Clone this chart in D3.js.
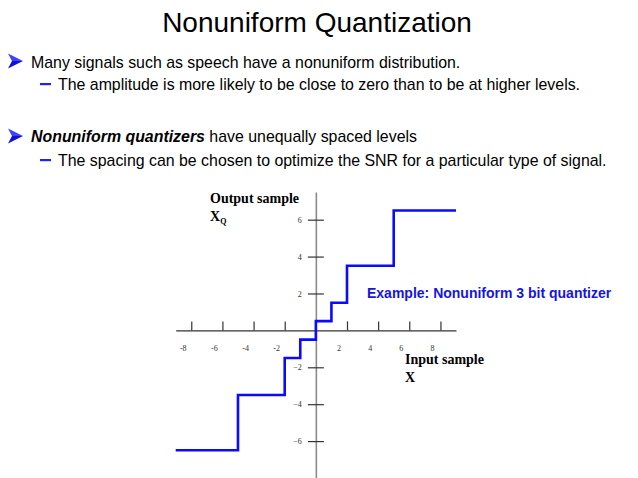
<!DOCTYPE html>
<html>
<head>
<meta charset="utf-8">
<script src="https://cdn.jsdelivr.net/npm/d3@7"></script>
<style>
  body { margin: 0; background: #fff; }
  svg { display: block; }
</style>
</head>
<body>
<div id="chart"></div>
<script>
// quantizer: decision thresholds and output levels
var xBreaks = [-9, -5, -2, -1, 0, 1, 2, 5, 9];
var levels = [-6.5, -3.5, -1.5, -0.5, 0.5, 1.5, 3.5, 6.5];
var xTicks = [-8, -6, -4, -2, 2, 4, 6, 8];
var yTicks = [-6, -4, -2, 2, 4, 6];

var W = 638, H = 478;
var sans = "'Liberation Sans', Arial, sans-serif";
var serif = "'Liberation Serif', 'Times New Roman', serif";

var svg = d3.select("#chart").append("svg")
  .attr("width", W)
  .attr("height", H);

// ---- slide text ----
svg.append("text")
  .attr("x", 317).attr("y", 32)
  .attr("text-anchor", "middle")
  .style("font-family", sans).style("font-size", "28px")
  .text("Nonuniform Quantization");

function arrowBullet(y) {
  var g = svg.append("g").attr("transform", "translate(8," + (y - 7.5) + ")");
  g.append("path").attr("d", "M0,0 L15,7.5 L4,7.5 Z").attr("fill", "#4040ff");
  g.append("path").attr("d", "M4,7.5 L15,7.5 L0,15 Z").attr("fill", "#1010d8");
}
function dashBullet(y) {
  svg.append("rect").attr("x", 40).attr("y", y - 1).attr("width", 11).attr("height", 2.2).attr("fill", "#2020ff");
}

var bodySize = "15.9px";

arrowBullet(61);
svg.append("text").attr("x", 31).attr("y", 67.5)
  .style("font-family", sans).style("font-size", bodySize)
  .text("Many signals such as speech have a nonuniform distribution.");

dashBullet(84);
svg.append("text").attr("x", 58).attr("y", 89.5)
  .style("font-family", sans).style("font-size", bodySize)
  .text("The amplitude is more likely to be close to zero than to be at higher levels.");

arrowBullet(136);
var t3 = svg.append("text").attr("x", 31).attr("y", 142)
  .style("font-family", sans).style("font-size", bodySize);
t3.append("tspan").style("font-weight", "bold").style("font-style", "italic").text("Nonuniform quantizers");
t3.append("tspan").text(" have unequally spaced levels");

dashBullet(160);
svg.append("text").attr("x", 58).attr("y", 166)
  .style("font-family", sans).style("font-size", bodySize)
  .text("The spacing can be chosen to optimize the SNR for a particular type of signal.");

// ---- chart ----
var x = d3.scaleLinear().domain([-9, 9]).range([175.7, 456]);
var y = d3.scaleLinear().domain([-8, 7.5]).range([478, 192]);

// x axis: ticks point up only
var xAxis = svg.append("g")
  .attr("transform", "translate(0," + y(0) + ")")
  .call(d3.axisTop(x).tickValues(xTicks).tickSize(9).tickSizeOuter(0).tickFormat(""));
xAxis.select(".domain").attr("stroke", "#333").attr("stroke-width", 1.2);
xAxis.selectAll(".tick line").attr("stroke", "#333").attr("stroke-width", 1.2);

svg.append("g").selectAll("text")
  .data(xTicks)
  .enter().append("text")
    .attr("x", function(d) { return x(d) - 8; })
    .attr("y", 351)
    .attr("text-anchor", "middle")
    .style("font-family", serif).style("font-size", "8px").attr("fill", "#333")
    .text(function(d) { return d; });

// y axis: ticks cross the line
var yAxis = svg.append("g")
  .attr("transform", "translate(" + x(0) + ",0)")
  .call(d3.axisLeft(y).tickValues(yTicks).tickSize(8).tickSizeOuter(0).tickPadding(6));
yAxis.select(".domain").attr("stroke", "#8a8a8a").attr("stroke-width", 1.6);
yAxis.selectAll(".tick line").attr("x1", 8).attr("stroke", "#333").attr("stroke-width", 1.2);
yAxis.selectAll(".tick text")
  .style("font-family", serif).style("font-size", "8px").attr("fill", "#333");

// staircase
var stepPts = levels.map(function(v, i) { return [xBreaks[i], v]; });
stepPts.push([xBreaks[xBreaks.length - 1], levels[levels.length - 1]]);

svg.append("path")
  .datum(stepPts)
  .attr("fill", "none")
  .attr("stroke", "#0a0aff")
  .attr("stroke-width", 2.6)
  .attr("d", d3.line()
    .x(function(d) { return x(d[0]); })
    .y(function(d) { return y(d[1]); })
    .curve(d3.curveStepAfter));

// axis titles
var outT = svg.append("g").style("font-family", serif).style("font-weight", "bold").style("font-size", "14px");
outT.append("text").attr("x", 210).attr("y", 203).text("Output sample");
var xq = outT.append("text").attr("x", 210).attr("y", 221);
xq.append("tspan").text("X");
xq.append("tspan").attr("dy", 3).style("font-size", "8px").text("Q");

var inT = svg.append("g").style("font-family", serif).style("font-weight", "bold").style("font-size", "14px");
inT.append("text").attr("x", 405).attr("y", 364).text("Input sample");
inT.append("text").attr("x", 405).attr("y", 382).text("X");

svg.append("text")
  .attr("x", 367).attr("y", 298)
  .style("font-family", sans).style("font-weight", "bold").style("font-size", "14px")
  .attr("fill", "#1414e6")
  .text("Example: Nonuniform 3 bit quantizer");
</script>
</body>
</html>
